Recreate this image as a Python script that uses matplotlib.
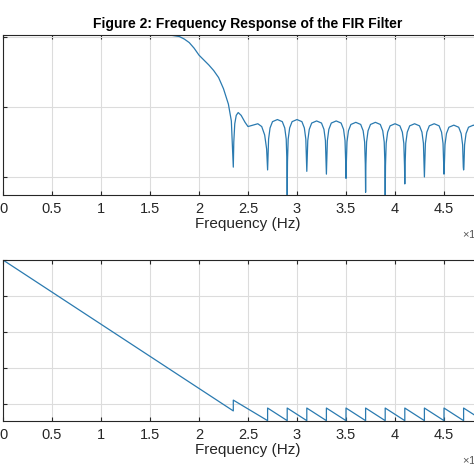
import numpy as np
import matplotlib.pyplot as plt

plt.rcParams['font.family'] = ['Liberation Sans', 'DejaVu Sans']

# passband / transition band (frequency in units of 1e4 Hz, magnitude in dB)
pass_f = [0, 1.7, 1.8, 1.85, 1.9, 1.95, 2.0, 2.05, 2.1, 2.15, 2.2, 2.25, 2.3, 2.33, 2.35]
pass_db = [1.4, 1.4, 0.3, -1.5, -4, -8, -13, -16.5, -20, -24, -29, -37, -48, -60, -93]
# first sidelobes (irregular)
side_f = [2.355, 2.365, 2.38, 2.4, 2.43, 2.47, 2.5, 2.55, 2.6, 2.64, 2.67, 2.69, 2.7]
side_db = [-75, -62, -56, -54, -56, -61, -64, -63, -62, -64, -70, -80, -95]
# regular stopband lobes: null positions, null depths, peak levels
null_f = [2.7, 2.9, 3.1, 3.3, 3.5, 3.7, 3.9, 4.1, 4.3, 4.5, 4.7, 4.9]
null_db = [-95, -113, -96, -98, -101, -111, -118, -105, -100, -98, -95, -95]
peak_db = [-59, -59, -60, -60, -61, -61, -62, -62, -62, -63, -63]

# phase (degrees): wraps
ph_f = [0, 2.35, 2.35, 2.7, 2.7, 2.9, 2.9, 3.1, 3.1, 3.3, 3.3, 3.5, 3.5, 3.7, 3.7,
        3.9, 3.9, 4.1, 4.1, 4.3, 4.3, 4.5, 4.5, 4.7, 4.7, 4.9, 4.9, 5.1]
ph_deg = [0, -4190, -3890, -4460, -4110, -4460, -4110, -4460, -4110, -4460, -4110,
          -4460, -4110, -4460, -4110, -4460, -4110, -4460, -4110, -4460, -4110,
          -4460, -4110, -4460, -4110, -4460, -4110, -4460]

# build magnitude curve
f = list(pass_f) + list(side_f)
m = list(pass_db) + list(side_db)
shape_off = [0.003, 0.01, 0.025, 0.05, 0.1, 0.15, 0.175, 0.19, 0.197]
shape_rel = [30, 14, 6, 1.5, 0, 1.5, 6, 14, 30]
for i in range(len(peak_db)):
    for o, r in zip(shape_off, shape_rel):
        f.append(null_f[i] + o)
        m.append(peak_db[i] - r)
    f.append(null_f[i + 1])
    m.append(null_db[i + 1])

blue = '#2a7ab0'
fig = plt.figure(figsize=(4.74, 4.74), dpi=100)
ax1 = fig.add_axes([3/474, 1 - 195/474, 490/474, 160/474])
ax2 = fig.add_axes([3/474, 1 - 421/474, 490/474, 161/474])

ax1.plot(f, m, color=blue, lw=0.9)
ax1.set_ylim(-112.9, 1.4)
ax1.set_yticks([-100, -50, 0])
ax1.set_title('Figure 2: Frequency Response of the FIR Filter', fontsize=10,
              fontweight='bold', pad=5)

ax2.plot(ph_f, ph_deg, color=blue, lw=0.9)
ax2.set_ylim(-4470, 0)
ax2.set_yticks([-4000, -3000, -2000, -1000, 0])

for ax in (ax1, ax2):
    ax.set_xlim(0, 5)
    ax.set_xticks(np.arange(0, 5.01, 0.5))
    ax.set_xticklabels(['0', '0.5', '1', '1.5', '2', '2.5', '3', '3.5', '4', '4.5', '5'])
    ax.grid(True, color='#dcdcdc', lw=0.8)
    ax.tick_params(direction='in', top=True, right=True, labelsize=10.5,
                   colors='#262626', length=3, pad=5)
    ax.set_xlabel('Frequency (Hz)', fontsize=11, color='#262626', labelpad=1)
    for s in ax.spines.values():
        s.set_color('#262626')
        s.set_linewidth(0.8)
    ax.text(0.937, -0.27, '×10$^4$', transform=ax.transAxes, fontsize=8, color='#555555')

fig.savefig('out.png', dpi=100)
